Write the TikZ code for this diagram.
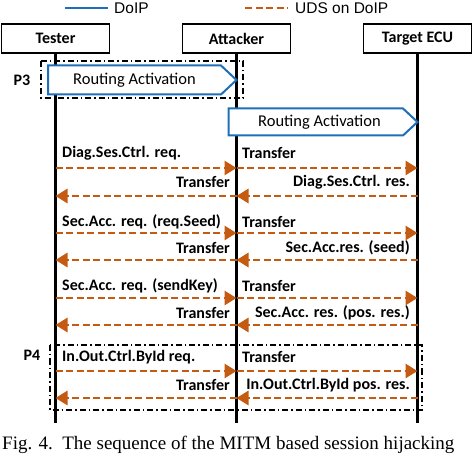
\documentclass[tikz,border=0pt]{standalone}
\usepackage{fontspec}
\setmainfont{Carlito}
\newfontfamily\legfont{Liberation Sans}
\newfontfamily\capfont{Liberation Serif}
\usetikzlibrary{arrows.meta}
\definecolor{doip}{HTML}{1F6EB8}
\definecolor{uds}{HTML}{C55A11}
\begin{document}
\begin{tikzpicture}[x=1pt,y=-1pt,
  head/.style={draw,line width=1.3pt,minimum width=108pt,minimum height=29pt,font=\bfseries\fontsize{16}{18}\selectfont,inner sep=0},
  life/.style={line width=2.4pt},
  udsline/.style={uds,line width=2.8pt,dash pattern=on 7pt off 3.5pt},
  udsarrow/.style={udsline,-{Triangle[length=12pt,width=14pt]}},
  doipline/.style={doip,line width=2.5pt},
  ra/.style={draw=doip, line width=2pt, fill=white, line join=miter},
  ratext/.style={font=\fontsize{16.5}{18}\selectfont, inner sep=0},
  lbl/.style={font=\bfseries\fontsize{16}{18}\selectfont, inner sep=0},
  pbox/.style={line width=1.2pt, dash pattern=on 6pt off 3pt on 1.5pt off 3pt},
  leg/.style={font=\legfont\fontsize{15.5}{17}\selectfont, inner sep=0, anchor=west},
]
\useasboundingbox (0,0) rectangle (474,454);

% legend
\coordinate (l1a) at (65,8); \coordinate (l1b) at (108,8);
\coordinate (l2a) at (245,8); \coordinate (l2b) at (288,8);
\draw[doipline] (l1a) -- (l1b);
\node[leg] (legdoip) at (114,8) {DoIP};
\draw[udsline] (l2a) -- (l2b);
\node[leg] (leguds) at (295,8) {UDS on DoIP};

% heads
\node[head] (tester) at (55.5,38.5) {Tester};
\node[head] (attacker) at (236.5,38.5) {Attacker};
\node[head] (ecu) at (417.5,38.5) {Target ECU};

\coordinate (T) at (55.5,423);
\coordinate (A) at (236.5,423);
\coordinate (E) at (417.5,423);
\draw[life] (tester.south) -- (T);
\draw[life] (attacker.south) -- (A);
\draw[life] (ecu.south) -- (E);

% P3
\draw[pbox] (41,61) rectangle (243,98);
\node[lbl] (p3) at (22,80) {P3};
\draw[ra] (48,65.5) -- (221,65.5) -- (236.5,80) -- (221,94.5) -- (48,94.5) -- cycle;
\node[ratext] (ra1t) at (134.5,80) {Routing Activation};

\draw[ra] (228.5,108.5) -- (403,108.5) -- (417.5,122) -- (403,135.5) -- (228.5,135.5) -- cycle;
\node[ratext] (ra2t) at (319.5,122) {Routing Activation};

% rows
\foreach \n/\y in {1/168,2/196,3/233,4/260,5/298,6/325,7/371,8/398}
  \coordinate (r\n) at (0,\y);

% row 1
\node[lbl,anchor=west] (m1) at (62,153) {Diag.Ses.Ctrl. req.};
\node[lbl,anchor=west] (m1t) at (242,153) {Transfer};
\draw[udsarrow] (T|-r1) -- (A|-r1);
\draw[udsarrow] (A|-r1) -- (E|-r1);
% row 2
\node[lbl,anchor=east] (m2t) at (230,182) {Transfer};
\node[lbl,anchor=east] (m2) at (410,182) {Diag.Ses.Ctrl. res.};
\draw[udsarrow] (E|-r2) -- (A|-r2);
\draw[udsarrow] (A|-r2) -- (T|-r2);
% row 3
\node[lbl,anchor=west] (m3) at (62,222) {Sec.Acc. req. (req.Seed)};
\node[lbl,anchor=west] (m3t) at (242,222) {Transfer};
\draw[udsarrow] (T|-r3) -- (A|-r3);
\draw[udsarrow] (A|-r3) -- (E|-r3);
% row 4
\node[lbl,anchor=east] (m4t) at (230,248) {Transfer};
\node[lbl,anchor=east] (m4) at (410,248) {Sec.Acc.res. (seed)};
\draw[udsarrow] (E|-r4) -- (A|-r4);
\draw[udsarrow] (A|-r4) -- (T|-r4);
% row 5
\node[lbl,anchor=west] (m5) at (62,286) {Sec.Acc. req. (sendKey)};
\node[lbl,anchor=west] (m5t) at (242,286) {Transfer};
\draw[udsarrow] (T|-r5) -- (A|-r5);
\draw[udsarrow] (A|-r5) -- (E|-r5);
% row 6
\node[lbl,anchor=east] (m6t) at (230,313) {Transfer};
\node[lbl,anchor=east] (m6) at (410,313) {Sec.Acc. res. (pos. res.)};
\draw[udsarrow] (E|-r6) -- (A|-r6);
\draw[udsarrow] (A|-r6) -- (T|-r6);

% P4
\draw[pbox] (50,345) rectangle (422,410);
\node[lbl] (p4) at (32,355) {P4};
% row 7
\node[lbl,anchor=west] (m7) at (62,357) {In.Out.Ctrl.ById req.};
\node[lbl,anchor=west] (m7t) at (242,357) {Transfer};
\draw[udsarrow] (T|-r7) -- (A|-r7);
\draw[udsarrow] (A|-r7) -- (E|-r7);
% row 8
\node[lbl,anchor=east] (m8t) at (230,385) {Transfer};
\node[lbl,anchor=east] (m8) at (410,385) {In.Out.Ctrl.ById pos. res.};
\draw[udsarrow] (E|-r8) -- (A|-r8);
\draw[udsarrow] (A|-r8) -- (T|-r8);

% caption
\node[font=\capfont\fontsize{19}{22}\selectfont, inner sep=0, anchor=base west] (cap) at (2,449) {Fig. 4.\ \ The sequence of the MITM based session hijacking};
\end{tikzpicture}
\end{document}
